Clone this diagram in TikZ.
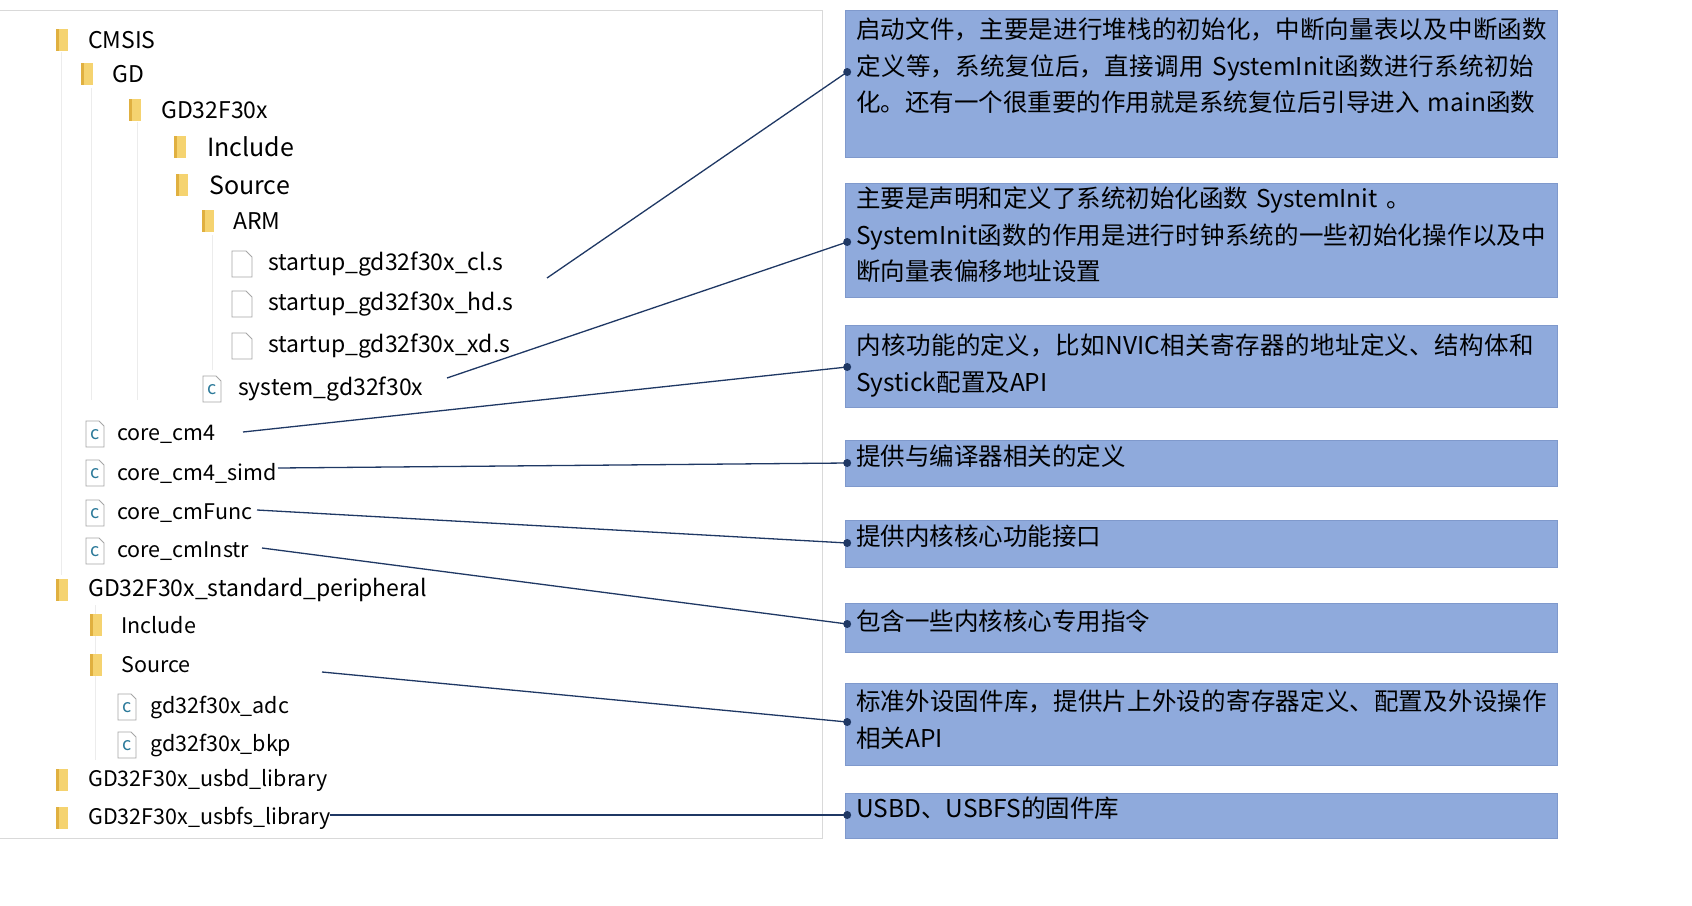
\documentclass[tikz,border=0pt]{standalone}
\usepackage{fontspec}
\setmainfont{Noto Sans CJK SC}
\XeTeXlinebreaklocale "zh"
\XeTeXlinebreakskip=0pt plus 1pt
\begin{document}
\begin{tikzpicture}[x=1pt,y=-1pt,
  every node/.style={inner sep=0pt,anchor=west},
  lab/.style={font=\fontsize{23}{26}\selectfont},
  labs/.style={font=\fontsize{21.5}{24}\selectfont},
  desc/.style={font=\fontsize{24.5}{36.5}\selectfont,align=left,text width=700pt,anchor=north west},
  box/.style={fill=boxc,draw=boxd,line width=0.8pt},
  conn/.style={draw=linec,line width=1.3pt},
  dot/.style={fill=linec,circle,inner sep=0pt,minimum size=8pt},
  folder/.pic={\fill[folderc] (-6,-11) rectangle (6,11); \fill[folderd] (-6,-11) rectangle (-3,11);},
  sfile/.pic={\draw[gray!70,fill=white,line width=0.8pt] (-10,-13) -- (4,-13) -- (10,-7) -- (10,13) -- (-10,13) -- cycle;},
  cfile/.pic={\draw[gray!70,fill=white,line width=0.8pt] (-9,-13) -- (4,-13) -- (9,-8) -- (9,13) -- (-9,13) -- cycle;
     \node[anchor=center,text=cc,font=\fontsize{18}{18}\selectfont] at (0,1) {c};}
]
\definecolor{boxc}{HTML}{8FAADC}
\definecolor{boxd}{HTML}{7F99CC}
\definecolor{linec}{HTML}{1F3864}
\definecolor{folderc}{HTML}{F5D370}
\definecolor{folderd}{HTML}{E0B040}
\definecolor{cc}{HTML}{2C7A9A}
\useasboundingbox (0,0) rectangle (1692,905);
\fill[white] (0,0) rectangle (1692,905);
\draw[gray!30,line width=1pt] (0,10) -- (822,10) -- (822,838) -- (0,838);
% tree guides
\draw[gray!15,line width=0.8pt] (61,52) -- (61,575) (91,88) -- (91,400) (137,122) -- (137,400) (212,235) -- (212,370) (95,605) -- (95,760);
% tree
\pic at (62,40) {folder}; \node[lab] (n1) at (88,40) {CMSIS};
\pic at (87,74) {folder}; \node[lab] (n2) at (112,74) {GD};
\pic at (135,110) {folder}; \node[lab] (n3) at (161,110) {GD32F30x};
\pic at (180,147) {folder}; \node[lab,font=\fontsize{25}{28}\selectfont] (n4) at (207,147) {Include};
\pic at (182,185) {folder}; \node[lab,font=\fontsize{25}{28}\selectfont] (n5) at (209,185) {Source};
\pic at (208,221) {folder}; \node[lab] (n6) at (233,221) {ARM};
\pic at (242,264) {sfile}; \node[lab] (n7) at (268,264) {startup\_gd32f30x\_cl.s};
\pic at (242,304) {sfile}; \node[lab] (n8) at (268,304) {startup\_gd32f30x\_hd.s};
\pic at (242,346) {sfile}; \node[lab] (n9) at (268,346) {startup\_gd32f30x\_xd.s};
\pic at (212,389) {cfile}; \node[lab] (n10) at (238,389) {system\_gd32f30x};
\pic at (95,434) {cfile}; \node[labs] (n11) at (117,434) {core\_cm4};
\pic at (95,473) {cfile}; \node[labs] (n12) at (117,473) {core\_cm4\_simd};
\pic at (95,513) {cfile}; \node[labs] (n13) at (117,513) {core\_cmFunc};
\pic at (95,551) {cfile}; \node[labs] (n14) at (117,551) {core\_cmInstr};
\pic at (62,590) {folder}; \node[lab] (n15) at (88,590) {GD32F30x\_standard\_peripheral};
\pic at (96,625) {folder}; \node[labs] (n16) at (121,625) {Include};
\pic at (96,665) {folder}; \node[labs] (n17) at (121,665) {Source};
\pic at (127,707) {cfile}; \node[labs] (n18) at (150,707) {gd32f30x\_adc};
\pic at (127,745) {cfile}; \node[labs] (n19) at (150,745) {gd32f30x\_bkp};
\pic at (62,780) {folder}; \node[labs] (n20) at (88,780) {GD32F30x\_usbd\_library};
\pic at (62,818) {folder}; \node[labs] (n21) at (88,818) {GD32F30x\_usbfs\_library};
% boxes
\draw[box] (845,10) rectangle (1557,157);
\node[desc] (b1) at (856,18) {启动文件，主要是进行堆栈的初始化，中断向量表以及中断函数定义等，系统复位后，直接调用 SystemInit函数进行系统初始化。还有一个很重要的作用就是系统复位后引导进入 main函数};
\draw[box] (845,183) rectangle (1557,297);
\node[desc] (b2) at (856,187) {主要是声明和定义了系统初始化函数 SystemInit 。\\SystemInit函数的作用是进行时钟系统的一些初始化操作以及中断向量表偏移地址设置};
\draw[box] (845,325) rectangle (1557,407);
\node[desc] (b3) at (856,334) {内核功能的定义，比如NVIC相关寄存器的地址定义、结构体和Systick配置及API};
\draw[box] (845,440) rectangle (1557,486);
\node[desc] (b4) at (856,445) {提供与编译器相关的定义};
\draw[box] (845,520) rectangle (1557,567);
\node[desc] (b5) at (856,525) {提供内核核心功能接口};
\draw[box] (845,603) rectangle (1557,652);
\node[desc] (b6) at (856,610) {包含一些内核核心专用指令};
\draw[box] (845,683) rectangle (1557,765);
\node[desc] (b7) at (856,690) {标准外设固件库，提供片上外设的寄存器定义、配置及外设操作相关API};
\draw[box] (845,793) rectangle (1557,838);
\node[desc] (b8) at (856,797) {USBD、USBFS的固件库};
% connector ends
\coordinate (s1) at (547,278); \node[dot] (d1) at (843,72) {};
\coordinate (s2) at (447,378); \node[dot] (d2) at (843,242) {};
\coordinate (s3) at (243,432); \node[dot] (d3) at (843,367) {};
\coordinate (s4) at (278,468); \node[dot] (d4) at (843,463) {};
\coordinate (s5) at (257,510); \node[dot] (d5) at (843,543) {};
\coordinate (s6) at (262,548); \node[dot] (d6) at (843,624) {};
\coordinate (s7) at (322,672); \node[dot] (d7) at (843,722) {};
\coordinate (s8) at (330,815); \node[dot] (d8) at (843,815) {};
\foreach \i in {1,...,8}{\draw[conn] (s\i) -- (d\i.center);}
\end{tikzpicture}
\end{document}
